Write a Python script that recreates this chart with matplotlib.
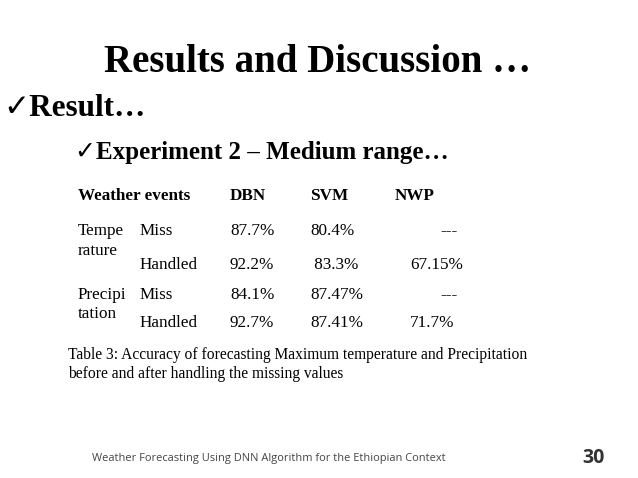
import matplotlib
matplotlib.use("Agg")
import matplotlib.pyplot as plt

headers = ["Weather events", "DBN", "SVM", "NWP"]
events = [["Tempe", "rature"], ["Precipi", "tation"]]
conditions = ["Miss", "Handled"]
dbn = ["87.7%", "92.2%", "84.1%", "92.7%"]
svm = ["80.4%", " 83.3%", "87.47%", "87.41%"]
nwp = ["---", "67.15%", "---", "71.7%"]

W, H = 638, 478
fig = plt.figure(figsize=(W/100, H/100), dpi=100)
serif = ['Liberation Serif', 'DejaVu Serif', 'DejaVu Sans']

def t(x, y, s, **kw):
    kw.setdefault('family', serif)
    kw.setdefault('va', 'center')
    fig.text(x/W, 1-y/H, s, **kw)

t(318, 62, "Results and Discussion …", size=28, weight='bold', ha='center')
t(3, 108, "✓Result…", size=22.5, weight='bold')
t(75, 152, "✓Experiment 2 – Medium range…", size=18, weight='bold')

fs = 12.3
hx = [78, 230, 310, 395]
for x, h in zip(hx, headers):
    t(x, 196, h, size=fs, weight='bold')

row_y = [231, 265, 295, 323]
ev_y = [(231, 251), (295, 314)]
for (a, b), (y1, y2) in zip(events, ev_y):
    t(78, y1, a, size=fs)
    t(78, y2, b, size=fs)
for i, y in enumerate(row_y):
    t(140, y, conditions[i % 2], size=fs)
    t(230, y, dbn[i], size=fs)
    t(310, y, svm[i], size=fs)
    if nwp[i] == "---":
        t(440, y, nwp[i], size=fs)
    else:
        t(410, y, nwp[i], size=fs)

t(68, 355, "Table 3: Accuracy of forecasting Maximum temperature and Precipitation", size=11.2)
t(68, 374, "before and after handling the missing values", size=11.2)

t(92, 459, "Weather Forecasting Using DNN Algorithm for the Ethiopian Context", size=7.9,
  family=['Open Sans', 'DejaVu Sans'], color='#444444')
t(582, 458, "30", size=14, weight='bold', family=['Open Sans', 'DejaVu Sans'], color='#333333')

fig.savefig("out.png", dpi=100)
